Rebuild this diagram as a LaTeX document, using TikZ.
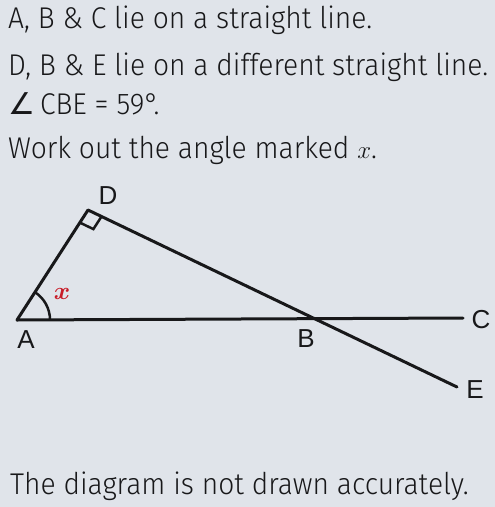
\documentclass[tikz,border=0pt]{standalone}
\usepackage{fontspec}
\setmainfont{Fira Sans}[UprightFont=* Light,FakeStretch=0.94]
\newfontfamily\labfont{Liberation Sans}
\newfontfamily\symfont{DejaVu Sans}
\usetikzlibrary{calc}
\definecolor{bg}{RGB}{224,228,234}
\definecolor{ink}{RGB}{24,24,26}
\definecolor{xred}{RGB}{200,28,40}
\begin{document}
\begin{tikzpicture}[x=1pt,y=-1pt,
  txt/.style={anchor=base west,inner sep=0pt,text=ink,font=\fontsize{30}{34}\selectfont},
  lab/.style={inner sep=0pt,text=ink,font=\labfont\fontsize{26}{30}\selectfont},
  seg/.style={line width=3pt,draw=ink,line cap=round,line join=round}]
\fill[bg] (0,0) rectangle (495,507);
\useasboundingbox (0,0) rectangle (495,507);
\node[txt] (t1) at (8,28) {A, B \& C lie on a straight line.};
\node[txt] (t2) at (8,75) {D, B \& E lie on a different straight line.};
\node[txt] (t3) at (8,114) {{\symfont ∠}\,CBE = 59°.};
\node[txt] (t4) at (8,158) {Work out the angle marked $x$.};
\node[txt] (t5) at (10,494) {The diagram is not drawn accurately.};
\coordinate (A) at (17,320);
\coordinate (D) at (88,210);
\coordinate (B) at (313,319);
\coordinate (C) at (463,318);
\coordinate (E) at (457,387);
\draw[seg] (A) -- (C);
\draw[seg] (A) -- (D) -- (E);
\draw[line width=2.5pt,draw=ink] ($(D)!15pt!(A)$) -- ($(D)!15pt!(A)+(D)!15pt!(E)-(D)$) -- ($(D)!15pt!(E)$);
\draw[line width=2.5pt,draw=ink] ($(A)!33pt!(B)$) arc[start angle=0,end angle=57,radius=33pt];
\node[lab] (lD) at (108,196) {D};
\node[lab] (lA) at (26,340) {A};
\node[lab] (lB) at (306,339) {B};
\node[lab] (lC) at (481,320) {C};
\node[lab] (lE) at (475,390) {E};
\node[inner sep=0pt,text=xred,font=\boldmath\fontsize{32}{34}\selectfont] (lx) at (62,294) {$x$};
\end{tikzpicture}
\end{document}
